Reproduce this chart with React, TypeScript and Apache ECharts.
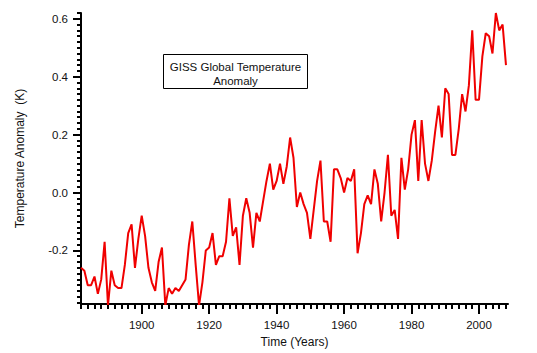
import React, { useEffect, useRef } from "react";
import * as echarts from "echarts";

const startYear = 1882;
const anomaly = [
  -0.26, -0.27, -0.32, -0.32, -0.29, -0.35, -0.3, -0.17, -0.39, -0.27, // 1882-1891
  -0.32, -0.33, -0.33, -0.25, -0.14, -0.11, -0.26, -0.16, -0.08, -0.15, // 1892-1901
  -0.26, -0.31, -0.34, -0.24, -0.19, -0.39, -0.33, -0.35, -0.33, -0.34, // 1902-1911
  -0.32, -0.3, -0.18, -0.1, -0.25, -0.39, -0.31, -0.2, -0.19, -0.14, // 1912-1921
  -0.25, -0.22, -0.22, -0.17, -0.02, -0.15, -0.12, -0.25, -0.08, -0.02, // 1922-1931
  -0.07, -0.19, -0.07, -0.1, -0.03, 0.04, 0.1, 0.01, 0.04, 0.1, // 1932-1941
  0.03, 0.09, 0.19, 0.12, -0.05, 0.0, -0.04, -0.07, -0.16, -0.06, // 1942-1951
  0.04, 0.11, -0.1, -0.1, -0.17, 0.08, 0.08, 0.05, 0.0, 0.05, // 1952-1961
  0.04, 0.08, -0.21, -0.14, -0.04, -0.01, -0.04, 0.08, 0.03, -0.1, // 1962-1971
  0.0, 0.13, -0.08, -0.06, -0.16, 0.12, 0.01, 0.08, 0.2, 0.25, // 1972-1981
  0.04, 0.25, 0.1, 0.04, 0.11, 0.21, 0.3, 0.19, 0.36, 0.34, // 1982-1991
  0.13, 0.13, 0.22, 0.34, 0.28, 0.37, 0.56, 0.32, 0.32, 0.47, // 1992-2001
  0.55, 0.54, 0.48, 0.62, 0.56, 0.58, 0.44, // 2002-2008
];

const xTickLabels = [1900, 1920, 1940, 1960, 1980, 2000];
const yTickLabels = [-0.2, 0.0, 0.2, 0.4, 0.6];
const xMinorTicks: number[] = [];
for (let y = 1882; y <= 2008; y += 2) xMinorTicks.push(y);
const yMinorTicks: number[] = [];
for (let k = -19; k <= 31; k++) yMinorTicks.push(Math.round(k * 2) / 100);

const FONT = "'Liberation Sans', Arial, sans-serif";

export default function App() {
  const ref = useRef<HTMLDivElement>(null);
  useEffect(() => {
    if (!ref.current) return;
    const chart = echarts.init(ref.current, null, { renderer: "svg" });
    const xMin = 1882;
    const xMax = 2008.6;
    const yMin = -0.385;
    const yMax = 0.62;
    const axisColor = "#000";
    chart.setOption({
      animation: false,
      backgroundColor: "#fff",
      grid: { left: 81, right: 29, top: 13, bottom: 47 },
      xAxis: [
        {
          type: "value",
          min: xMin,
          max: xMax,
          position: "bottom",
          name: "Time (Years)",
          nameLocation: "middle",
          nameGap: 32,
          nameTextStyle: { fontFamily: FONT, fontSize: 12, color: "#111" },
          axisLine: { show: true, onZero: false, lineStyle: { color: axisColor, width: 2 } },
          axisTick: {
            show: true,
            customValues: xMinorTicks,
            length: 5,
            lineStyle: { color: axisColor, width: 2 },
          },
          axisLabel: {
            show: true,
            customValues: xTickLabels,
            margin: 15,
            fontFamily: FONT,
            fontSize: 11.5,
            color: "#111",
            formatter: (v: number) => String(Math.round(v)),
          },
          splitLine: { show: false },
        },
        {
          type: "value",
          min: xMin,
          max: xMax,
          position: "bottom",
          axisLine: { show: false, onZero: false },
          axisTick: {
            show: true,
            customValues: xTickLabels,
            length: 10,
            lineStyle: { color: axisColor, width: 2 },
          },
          axisLabel: { show: false },
          splitLine: { show: false },
        },
      ],
      yAxis: [
        {
          type: "value",
          min: yMin,
          max: yMax,
          position: "left",
          name: "Temperature Anomaly  (K)",
          nameLocation: "middle",
          nameGap: 55,
          nameTextStyle: { fontFamily: FONT, fontSize: 12, color: "#111" },
          axisLine: { show: true, onZero: false, lineStyle: { color: axisColor, width: 2 } },
          axisTick: {
            show: true,
            customValues: yMinorTicks,
            length: 4,
            lineStyle: { color: axisColor, width: 2 },
          },
          axisLabel: {
            show: true,
            customValues: yTickLabels,
            margin: 13,
            fontFamily: FONT,
            fontSize: 11.5,
            color: "#111",
            formatter: (v: number) => v.toFixed(1),
          },
          splitLine: { show: false },
        },
        {
          type: "value",
          min: yMin,
          max: yMax,
          position: "left",
          axisLine: { show: false, onZero: false },
          axisTick: {
            show: true,
            customValues: yTickLabels,
            length: 8,
            lineStyle: { color: axisColor, width: 2 },
          },
          axisLabel: { show: false },
          splitLine: { show: false },
        },
      ],
      graphic: [
        {
          type: "group",
          left: 163,
          top: 54,
          children: [
            {
              type: "rect",
              shape: { x: 0, y: 0, width: 144, height: 34 },
              style: { fill: "#fff", stroke: "#000", lineWidth: 1 },
            },
            {
              type: "text",
              x: 72,
              y: 5,
              style: {
                text: "GISS Global Temperature\nAnomaly",
                fontFamily: FONT,
                fontSize: 11.5,
                lineHeight: 14,
                fill: "#111",
                align: "center",
                verticalAlign: "top",
              },
            },
          ],
        },
      ],
      series: [
        {
          type: "line",
          xAxisIndex: 0,
          yAxisIndex: 0,
          data: anomaly.map((v, i) => [startYear + i, v]),
          showSymbol: false,
          symbol: "none",
          clip: true,
          lineStyle: { color: "#f00000", width: 2 },
        },
      ],
    });
    return () => chart.dispose();
  }, []);
  return (
    <div
      ref={ref}
      style={{ position: "fixed", left: 0, top: 0, width: 537, height: 353 }}
    />
  );
}
